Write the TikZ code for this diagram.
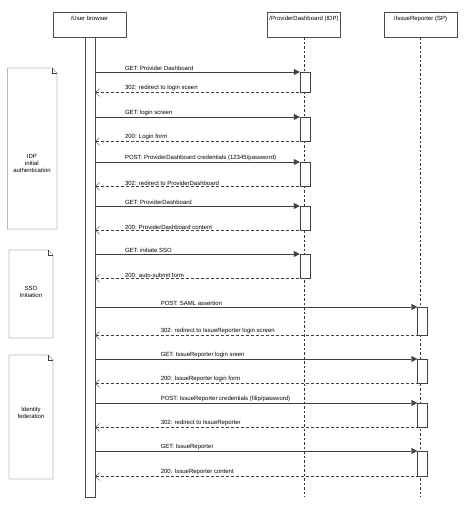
\documentclass[tikz,border=0pt]{standalone}
\usepackage{fontspec}
\setmainfont{Liberation Sans}
\usetikzlibrary{arrows.meta}

\tikzset{
    every node/.style={font=\fontsize{6}{7}\selectfont},
    hdr/.style={draw=black!70, minimum width=73pt, anchor=north, inner xsep=0pt, inner ysep=3pt, text height=5pt, text depth=14pt},
    life/.style={draw=black!80, dash pattern=on 2.5pt off 2pt},
    act/.style={draw=black!75, fill=white, minimum width=10pt, anchor=north, inner sep=0pt},
    call/.style={draw=black!75, -{Triangle[length=6pt,width=6pt]}},
    ret/.style={draw=black!75, dash pattern=on 3pt off 2pt, {Straight Barb[length=4pt,width=8pt]}-},
    lblI/.style={anchor=south west, inner sep=1pt, pos=0.14},
    lblS/.style={anchor=south west, inner sep=1pt, pos=0.2},
    notefr/.style={draw=black!75, fill=white},
    notetxt/.style={align=center, inner sep=0pt}
}

% folded-corner note: x1, y1, x2, y2
\newcommand{\notebox}[4]{
    \draw[notefr] (#1,#2) -- (#3-5,#2) -- (#3,#2+5) -- (#3,#4) -- (#1,#4) -- cycle;
    \draw[notefr] (#3-5,#2) -- (#3-5,#2+5) -- (#3,#2+5);
}

\begin{document}
\begin{tikzpicture}[x=1pt, y=-1pt]
    \useasboundingbox (0,0) rectangle (474,512);

    % participants
    \node[hdr] (ub) at (89.5,12) {/User browser};
    \node[hdr] (idp) at (304,12) {/ProviderDashboard (IDP)};
    \node[hdr] (sp) at (420.5,12) {/IssueReporter (SP)};

    \node[draw=black!70, fill=white, minimum width=10pt, minimum height=460pt, anchor=north, inner sep=0pt] (ubar) at (90,37) {};

    \draw[life] (idp.south) -- (idp.south |- ubar.south);
    \draw[life] (sp.south) -- (sp.south |- ubar.south);

    % activations
    \node[act, minimum height=20pt] (a1) at (305,72) {};
    \node[act, minimum height=24pt] (a2) at (305,117) {};
    \node[act, minimum height=24pt] (a3) at (305,162) {};
    \node[act, minimum height=24pt] (a4) at (305,206) {};
    \node[act, minimum height=24pt] (a5) at (305,254) {};
    \node[act, minimum height=28pt] (b1) at (422.5,307) {};
    \node[act, minimum height=24pt] (b2) at (422.5,359) {};
    \node[act, minimum height=24pt] (b3) at (422.5,403) {};
    \node[act, minimum height=25pt] (b4) at (422.5,451) {};

    % messages
    \draw[call] (ubar.east |- a1.north west) -- node[lblI] {GET: Provider Dashboard} (a1.north west);
    \draw[ret] (ubar.east |- a1.south west) -- node[lblI] {302: redirect to login sceen} (a1.south west);
    \draw[call] (ubar.east |- a2.north west) -- node[lblI] {GET: login screen} (a2.north west);
    \draw[ret] (ubar.east |- a2.south west) -- node[lblI] {200: Login form} (a2.south west);
    \draw[call] (ubar.east |- a3.north west) -- node[lblI] {POST: ProviderDashboard credentials (12345/password)} (a3.north west);
    \draw[ret] (ubar.east |- a3.south west) -- node[lblI] {302: redirect to ProviderDashboard} (a3.south west);
    \draw[call] (ubar.east |- a4.north west) -- node[lblI] {GET: ProviderDashboard} (a4.north west);
    \draw[ret] (ubar.east |- a4.south west) -- node[lblI] {200: ProviderDashboard content} (a4.south west);
    \draw[call] (ubar.east |- a5.north west) -- node[lblI] {GET: initiate SSO} (a5.north west);
    \draw[ret] (ubar.east |- a5.south west) -- node[lblI] {200: auto-submit form} (a5.south west);

    \draw[call] (ubar.east |- b1.north west) -- node[lblS] {POST: SAML assertion} (b1.north west);
    \draw[ret] (ubar.east |- b1.south west) -- node[lblS] {302: redirect to IssueReporter login screen} (b1.south west);
    \draw[call] (ubar.east |- b2.north west) -- node[lblS] {GET: IssueReporter login sreen} (b2.north west);
    \draw[ret] (ubar.east |- b2.south west) -- node[lblS] {200: IssueReporter login form} (b2.south west);
    \draw[call] (ubar.east |- b3.north west) -- node[lblS] {POST: IssueReporter credentials (filip/password)} (b3.north west);
    \draw[ret] (ubar.east |- b3.south west) -- node[lblS] {302: redirect to IssueReporter} (b3.south west);
    \draw[call] (ubar.east |- b4.north west) -- node[lblS] {GET: IssueReporter} (b4.north west);
    \draw[ret] (ubar.east |- b4.south west) -- node[lblS] {200: IssueReporter content} (b4.south west);

    % notes
    \notebox{7.5}{68}{57}{229}
    \node[notetxt] (n1) at (32,163) {IDP\\initial\\authentication};
    \notebox{9}{250}{53}{338}
    \node[notetxt] (n2) at (31,292) {SSO\\Initiation};
    \notebox{9}{355}{53}{479}
    \node[notetxt] (n3) at (31,413) {Identity\\federation};
\end{tikzpicture}
\end{document}
